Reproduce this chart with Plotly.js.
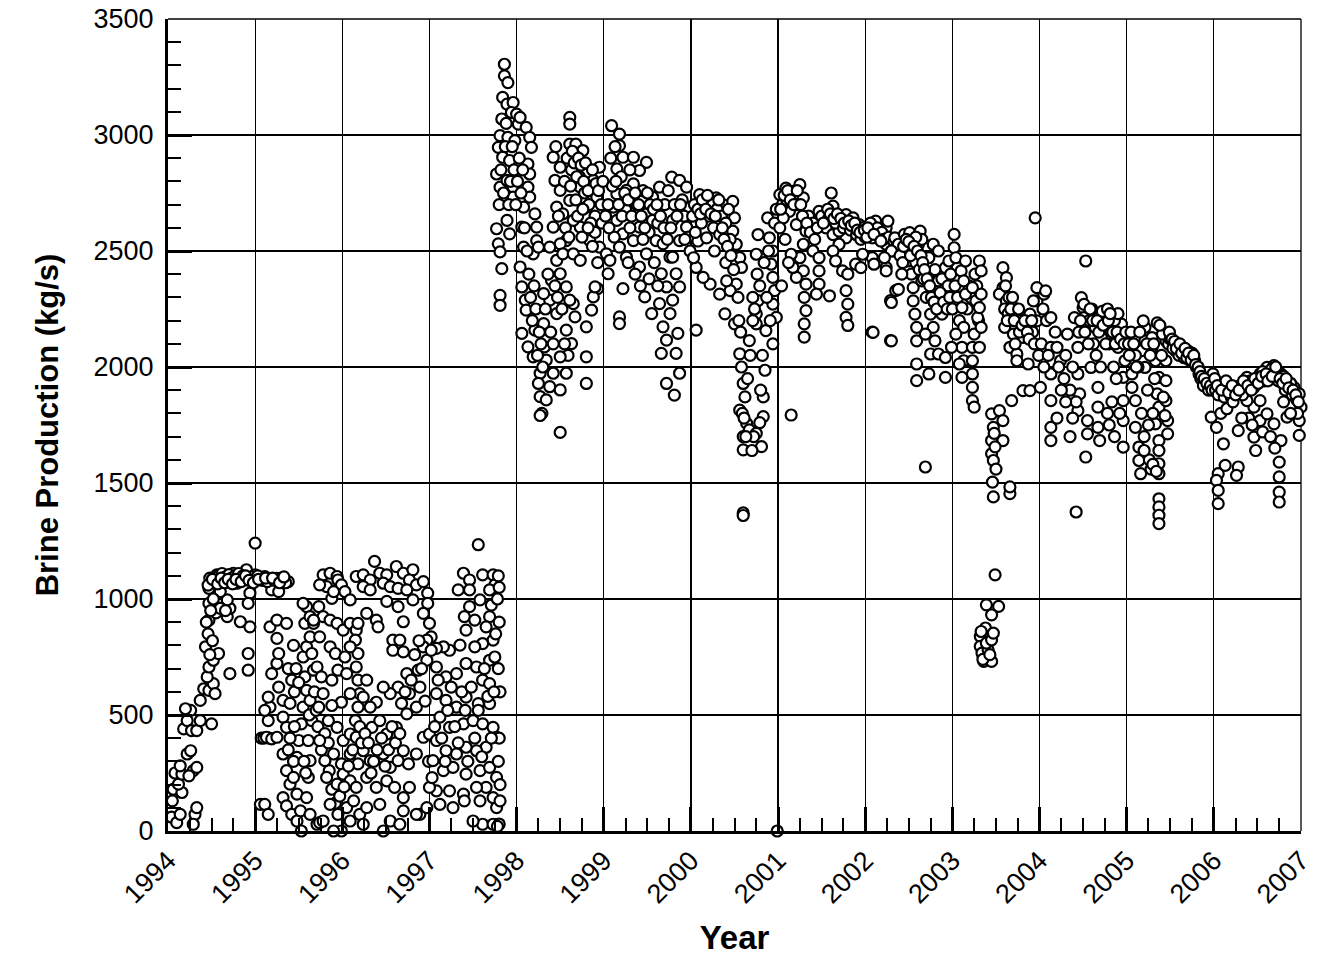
<!DOCTYPE html>
<html>
<head>
<meta charset="utf-8">
<script src="https://cdn.plot.ly/plotly-3.0.1.min.js"></script>
<style>html,body{margin:0;padding:0;background:#fff;}#chart{width:1328px;height:959px;}</style>
</head>
<body>
<div id="chart"></div>
<script>
// Tick labels
const yearTicks = [1994,1995,1996,1997,1998,1999,2000,2001,2002,2003,2004,2005,2006,2007];
const brineTicks = [0,500,1000,1500,2000,2500,3000,3500];

// [decimal year, brine production kg/s]
const pts1994 = [[1994.04,60],[1994.05,130],[1994.06,180],[1994.08,250],[1994.10,36],[1994.14,72],[1994.16,166],[1994.12,202],[1994.16,245],[1994.14,281],[1994.22,332],[1994.26,346],[1994.29,260],[1994.33,274],[1994.24,238],[1994.31,72],[1994.29,29],[1994.33,101],[1994.18,440],[1994.22,476],[1994.26,520],[1994.20,527],[1994.27,433],[1994.33,433],[1994.37,476],[1994.37,563],[1994.41,613],[1994.47,606],[1994.52,635],[1994.45,664],[1994.47,707],[1994.52,736],[1994.58,765],[1994.43,794],[1994.50,462],[1994.54,592],[1994.71,678],[1994.92,765],[1994.92,693],[1994.94,880],[1994.83,902],[1994.68,924],[1994.47,909],[1994.47,981],[1994.56,952],[1994.71,960],[1994.68,996],[1994.50,1068],[1994.56,1104],[1994.64,1082],[1994.75,1111],[1994.83,1097],[1994.90,1126],[1995.00,1104],[1995.06,1082],[1995.11,1097],[1995.17,1068],[1995.25,1089],[1995.32,1082],[1995.38,1075],[1995.00,1241],[1994.94,1025],[1994.92,981],[1994.47,1046],[1994.60,1032],[1994.79,1068],[1995.19,1039],[1995.27,1032],[1994.48,1090],[1994.53,1075],[1994.58,1100],[1994.62,1110],[1994.66,1095],[1994.70,1105],[1994.73,1090],[1994.77,1100],[1994.81,1110],[1994.86,1100],[1994.88,1085],[1994.96,1095],[1995.03,1100],[1995.09,1080],[1995.14,1075],[1995.22,1080],[1995.30,1090],[1995.35,1070],[1994.52,1000],[1994.55,940],[1994.60,960],[1994.66,950],[1994.46,1060],[1994.51,1085],[1994.57,1065],[1994.61,1090],[1994.65,1070],[1994.69,1085],[1994.74,1065],[1994.78,1085],[1994.84,1075],[1994.89,1100],[1994.93,1080],[1994.98,1070],[1995.04,1085],[1995.12,1090],[1995.20,1090],[1995.28,1070],[1995.33,1095],[1994.44,900],[1994.46,850],[1994.49,950],[1994.51,820],[1994.48,760]];

const pts1995 = [[1995.06,115],[1995.11,115],[1995.15,72],[1995.07,400],[1995.10,400],[1995.16,400],[1995.13,404],[1995.19,397],[1995.25,404],[1995.15,476],[1995.17,534],[1995.15,577],[1995.11,520],[1995.19,678],[1995.25,722],[1995.27,765],[1995.25,830],[1995.17,880],[1995.25,909],[1995.36,895],[1995.27,620],[1995.32,563],[1995.32,491],[1995.36,447],[1995.32,332],[1995.36,260],[1995.40,202],[1995.32,144],[1995.36,108],[1995.42,72],[1995.48,43],[1995.53,0],[1995.52,87],[1995.48,159],[1995.44,231],[1995.48,317],[1995.50,390],[1995.53,462],[1995.55,534],[1995.59,606],[1995.57,664],[1995.55,750],[1995.59,794],[1995.63,837],[1995.57,895],[1995.59,967],[1995.55,981],[1995.63,924],[1995.67,895],[1995.65,765],[1995.67,693],[1995.63,563],[1995.65,476],[1995.61,390],[1995.63,303],[1995.61,231],[1995.59,144],[1995.63,72],[1995.71,29],[1995.74,36],[1995.40,550],[1995.45,600],[1995.42,650],[1995.38,700],[1995.44,800],[1995.47,700],[1995.50,640],[1995.40,400],[1995.45,450],[1995.38,350],[1995.44,300],[1995.56,300],[1995.58,250],[1995.62,500],[1995.68,600],[1995.70,520],[1995.72,450],[1995.76,350],[1995.80,420],[1995.84,380],[1995.85,260],[1995.88,180],[1995.92,120],[1995.97,150]];

const pts1996a = [[1995.78,1104],[1995.86,1111],[1995.94,1097],[1995.82,1053],[1995.74,1061],[1995.88,1003],[1995.95,1082],[1995.99,1061],[1996.03,1032],[1996.09,996],[1995.90,1032],[1995.73,967],[1995.78,924],[1995.67,909],[1995.86,909],[1995.94,895],[1996.01,866],[1996.09,895],[1996.16,866],[1996.15,823],[1996.18,765],[1996.16,707],[1996.18,650],[1996.20,592],[1996.18,534],[1995.74,837],[1995.86,794],[1995.92,765],[1995.71,707],[1995.76,664],[1995.88,650],[1995.95,693],[1996.03,750],[1996.09,794],[1996.05,678],[1996.09,592],[1995.99,555],[1995.88,541],[1995.78,592],[1995.73,534],[1995.84,476],[1995.94,447],[1996.01,390],[1996.09,418],[1996.15,476],[1996.16,404],[1996.09,332],[1995.99,289],[1995.90,332],[1995.80,303],[1995.74,390],[1995.82,231],[1995.94,202],[1996.01,245],[1996.09,216],[1996.18,289],[1996.16,188],[1995.86,115],[1995.95,72],[1996.05,101],[1996.09,43],[1995.99,0],[1995.90,0],[1995.78,43],[1996.13,130],[1996.20,72],[1996.02,190],[1996.07,280],[1996.12,350],[1996.20,450]];

const pts1996b = [[1996.16,1097],[1996.24,1104],[1996.32,1082],[1996.37,1162],[1996.43,1111],[1996.51,1104],[1996.62,1140],[1996.70,1111],[1996.81,1126],[1996.77,1082],[1996.85,1061],[1996.93,1075],[1996.98,1025],[1996.98,981],[1996.24,1053],[1996.32,1039],[1996.47,1068],[1996.55,1053],[1996.64,1046],[1996.74,1039],[1996.51,990],[1996.64,967],[1996.81,996],[1996.93,938],[1997.00,895],[1997.02,837],[1996.97,823],[1996.28,938],[1996.39,909],[1996.41,880],[1996.18,895],[1996.70,902],[1996.58,823],[1996.66,823],[1996.58,779],[1996.70,772],[1996.74,678],[1996.64,620],[1996.55,592],[1996.47,620],[1996.39,555],[1996.32,534],[1996.24,577],[1996.28,650],[1996.34,447],[1996.43,476],[1996.51,418],[1996.62,447],[1996.74,505],[1996.85,534],[1996.77,592],[1996.89,620],[1996.97,736],[1996.87,693],[1996.93,794],[1996.24,346],[1996.32,303],[1996.47,332],[1996.55,274],[1996.64,303],[1996.70,346],[1996.76,289],[1996.85,332],[1996.93,404],[1997.00,418],[1996.28,231],[1996.39,188],[1996.51,216],[1996.60,188],[1996.70,144],[1996.77,188],[1996.89,72],[1996.97,101],[1996.43,115],[1996.28,101],[1996.55,43],[1996.66,29],[1996.47,0],[1996.24,29],[1996.70,87],[1996.85,72],[1996.22,380],[1996.26,420],[1996.30,380],[1996.33,250],[1996.36,300],[1996.40,350],[1996.45,400],[1996.49,280],[1996.53,350],[1996.57,450],[1996.61,380],[1996.66,420],[1996.68,550],[1996.72,600],[1996.79,650],[1996.83,760],[1996.88,820],[1996.91,700],[1996.95,560],[1996.99,300]];

const pts1997 = [[1997.56,1234],[1997.39,1111],[1997.46,1082],[1997.33,1039],[1997.61,1104],[1997.73,1104],[1997.75,1061],[1997.69,1039],[1997.46,1039],[1997.58,996],[1997.71,974],[1997.46,967],[1997.40,924],[1997.52,909],[1997.69,924],[1997.65,880],[1997.42,866],[1997.73,823],[1997.61,808],[1997.52,794],[1997.35,801],[1997.23,779],[1997.16,794],[1997.08,787],[1997.02,779],[1997.69,736],[1997.54,707],[1997.42,722],[1997.31,678],[1997.19,664],[1997.08,707],[1997.61,650],[1997.69,635],[1997.69,549],[1997.56,549],[1997.42,577],[1997.31,534],[1997.19,563],[1997.08,592],[1997.12,491],[1997.23,447],[1997.39,462],[1997.50,476],[1997.61,462],[1997.73,447],[1997.77,404],[1997.65,361],[1997.54,346],[1997.42,361],[1997.31,332],[1997.19,346],[1997.08,390],[1997.04,303],[1997.16,260],[1997.27,274],[1997.42,245],[1997.58,260],[1997.69,274],[1997.77,231],[1997.65,188],[1997.54,188],[1997.39,159],[1997.23,173],[1997.08,173],[1997.00,188],[1997.12,115],[1997.27,101],[1997.40,130],[1997.58,130],[1997.73,144],[1997.77,101],[1997.61,29],[1997.73,29],[1997.50,43],[1997.79,1100],[1997.80,1050],[1997.78,1000],[1997.80,900],[1997.79,700],[1997.81,600],[1997.80,400],[1997.79,300],[1997.81,130],[1997.80,30],[1997.78,20],[1997.81,200],[1997.03,230],[1997.06,450],[1997.10,650],[1997.14,400],[1997.18,300],[1997.21,520],[1997.25,620],[1997.29,450],[1997.33,380],[1997.37,600],[1997.41,520],[1997.44,300],[1997.48,620],[1997.52,400],[1997.56,520],[1997.60,320],[1997.63,700],[1997.67,580],[1997.71,400],[1997.75,750],[1997.76,850],[1997.74,600]];

const pts1998a = [[1997.86,3305],[1997.86,3255],[1997.90,3226],[1997.84,3162],[1997.89,3133],[1997.83,3069],[1997.96,3140],[1997.94,3097],[1998.00,3090],[1997.81,2997],[1997.79,2947],[1997.84,2904],[1997.77,2832],[1997.81,2775],[1997.89,2804],[1997.96,2775],[1997.92,2890],[1997.77,2596],[1997.79,2531],[1997.81,2496],[1997.83,2424],[1997.81,2309],[1997.81,2266],[1997.89,2632],[1997.92,2574],[1997.96,2732],[1997.90,2990],[1998.02,3047],[1997.98,2976],[1998.04,3076],[1998.11,3033],[1998.15,2990],[1998.17,2947],[1998.13,2875],[1998.15,2832],[1998.13,2775],[1998.15,2732],[1998.21,2660],[1998.23,2603],[1998.23,2545],[1998.19,2488],[1998.25,2517],[1998.08,2689],[1998.06,2603],[1998.08,2517],[1998.04,2431],[1998.06,2345],[1998.10,2288],[1998.11,2245],[1998.06,2145],[1998.13,2087],[1998.19,2044],[1998.27,1973],[1998.25,1929],[1998.27,1872],[1998.29,1800],[1998.21,2159],[1998.31,2187],[1998.32,2087],[1998.34,2030],[1998.38,1915],[1998.34,1858],[1998.50,1901],[1998.57,1973],[1998.63,2101],[1998.57,2159],[1998.46,2230],[1998.38,2288],[1998.31,2316],[1998.40,2374],[1998.50,2402],[1998.57,2345],[1998.65,2273],[1998.67,2216],[1998.61,2288],[1998.50,1718],[1998.27,1791],[1997.80,2700],[1997.82,2850],[1997.85,2750],[1997.87,2950],[1997.88,3050],[1997.91,2700],[1997.93,2800],[1997.95,2950],[1997.97,2850],[1997.99,2700],[1998.01,2800],[1998.03,2900],[1998.05,2750],[1998.07,2850],[1998.09,2600],[1998.12,2500],[1998.14,2400],[1998.16,2300],[1998.18,2200],[1998.20,2350],[1998.22,2250],[1998.24,2050],[1998.26,2150],[1998.28,2100],[1998.30,2000],[1998.33,2250],[1998.36,2400],[1998.39,2150],[1998.42,2100],[1998.44,2350],[1998.47,2300],[1998.52,2250],[1998.55,2100],[1998.59,2050]];

const pts1998b = [[1998.42,2904],[1998.50,2861],[1998.61,2961],[1998.68,2961],[1998.76,2933],[1998.67,2911],[1998.61,3076],[1998.61,3047],[1998.44,2804],[1998.50,2761],[1998.46,2689],[1998.53,2660],[1998.61,2718],[1998.73,2775],[1998.80,2832],[1998.88,2804],[1998.95,2861],[1998.92,2732],[1998.80,2689],[1998.73,2603],[1998.65,2632],[1998.57,2545],[1998.50,2531],[1998.42,2603],[1998.38,2517],[1998.46,2460],[1998.53,2488],[1998.65,2488],[1998.73,2460],[1998.84,2545],[1998.95,2517],[1999.03,2488],[1999.07,2460],[1999.05,2402],[1998.93,2338],[1998.88,2302],[1998.86,2245],[1998.80,2173],[1998.80,2044],[1998.80,1929],[1998.90,2345],[1998.42,1973],[1998.50,2044],[1999.22,2338],[1999.18,2216],[1999.18,2187],[1998.55,2800],[1998.58,2900],[1998.63,2850],[1998.70,2880],[1998.72,2820],[1998.78,2750],[1998.83,2700],[1998.86,2780],[1998.90,2650],[1998.97,2700],[1998.98,2620],[1998.45,2950],[1998.48,2650],[1998.56,2600],[1998.60,2560],[1998.70,2650],[1998.75,2560],[1998.85,2620],[1998.90,2580],[1998.64,2930],[1998.66,2880],[1998.69,2820],[1998.71,2900],[1998.74,2870],[1998.77,2800],[1998.79,2880],[1998.82,2760],[1998.87,2850],[1998.91,2790],[1998.94,2760],[1998.99,2800],[1998.62,2780],[1998.68,2720],[1998.76,2680],[1998.82,2600],[1998.87,2520],[1998.93,2450]];

const pts1999 = [[1999.09,3040],[1999.18,3004],[1999.18,2954],[1999.22,2904],[1999.15,2854],[1999.34,2904],[1999.49,2882],[1999.41,2847],[1999.34,2789],[1999.26,2761],[1999.15,2746],[1999.11,2689],[1999.15,2632],[1999.22,2574],[1999.18,2517],[1999.26,2474],[1999.34,2545],[1999.41,2603],[1999.49,2660],[1999.56,2732],[1999.64,2775],[1999.56,2632],[1999.60,2545],[1999.49,2488],[1999.41,2431],[1999.47,2302],[1999.55,2230],[1999.64,2273],[1999.72,2345],[1999.66,2402],[1999.76,2474],[1999.68,2531],[1999.79,2632],[1999.78,2818],[1999.87,2804],[1999.95,2775],[1999.98,2689],[1999.95,2603],[1999.87,2545],[1999.79,2474],[1999.83,2402],[1999.87,2345],[1999.79,2288],[1999.76,2230],[1999.68,2173],[1999.66,2059],[1999.72,2116],[1999.85,2145],[1999.83,2059],[1999.87,1973],[1999.72,1929],[1999.81,1879],[2000.06,2159],[1999.05,2700],[1999.10,2780],[1999.20,2820],[1999.25,2680],[1999.30,2600],[1999.38,2700],[1999.45,2760],[1999.52,2580],[1999.58,2450],[1999.62,2620],[1999.70,2700],[1999.74,2760],[1999.90,2720],[1999.92,2650],[1999.97,2560],[1999.30,2850],[1999.12,2560],[1999.45,2550],[1999.08,2900],[1999.13,2950],[1999.02,2650],[1999.06,2600],[1999.14,2800],[1999.17,2700],[1999.21,2650],[1999.24,2750],[1999.28,2720],[1999.32,2650],[1999.36,2750],[1999.40,2700],[1999.43,2650],[1999.47,2600],[1999.50,2750],[1999.53,2700],[1999.57,2680],[1999.61,2700],[1999.65,2650],[1999.69,2600],[1999.73,2550],[1999.77,2600],[1999.81,2700],[1999.84,2650],[1999.88,2700],[1999.93,2550],[1999.99,2500],[1999.28,2450],[1999.36,2400],[1999.42,2350],[1999.52,2380],[1999.62,2350]];

const pts2000 = [[2000.10,2743],[2000.22,2714],[2000.29,2729],[2000.37,2700],[2000.48,2714],[2000.50,2643],[2000.48,2586],[2000.52,2529],[2000.56,2471],[2000.58,2429],[2000.52,2357],[2000.45,2329],[2000.41,2371],[2000.33,2314],[2000.22,2357],[2000.14,2386],[2000.06,2429],[2000.03,2471],[2000.08,2543],[2000.18,2557],[2000.26,2600],[2000.33,2571],[2000.39,2229],[2000.50,2186],[2000.56,2057],[2000.58,2000],[2000.60,1929],[2000.62,1871],[2000.56,1814],[2000.64,1757],[2000.60,1700],[2000.67,1729],[2000.60,1643],[2000.75,1714],[2000.81,1657],[2000.83,1786],[2000.83,1871],[2000.85,1986],[2000.67,2114],[2000.75,2186],[2000.86,2157],[2000.94,2100],[2000.98,2214],[2000.94,2271],[2000.96,2329],[2000.94,2386],[2000.92,2443],[2000.94,2500],[2000.90,2557],[2000.88,2643],[2000.75,2229],[2000.77,2286],[2000.71,2300],[2000.75,2486],[2000.77,2571],[2000.60,1371],[2000.60,1360],[2000.99,0],[2000.15,2700],[2000.20,2650],[2000.25,2700],[2000.30,2680],[2000.35,2650],[2000.40,2620],[2000.43,2680],[2000.12,2620],[2000.05,2580],[2000.27,2500],[2000.40,2450],[2000.45,2550],[2000.70,1640],[2000.72,1700],[2000.79,1760],[2000.80,1900],[2000.82,2050],[2000.87,2300],[2000.91,2200],[2000.96,2620],[2000.98,2680],[2000.02,2650],[2000.04,2700],[2000.08,2680],[2000.11,2660],[2000.13,2720],[2000.17,2680],[2000.19,2740],[2000.23,2660],[2000.28,2650],[2000.32,2720],[2000.36,2600],[2000.38,2550],[2000.42,2520],[2000.46,2480],[2000.49,2420],[2000.54,2300],[2000.55,2200],[2000.57,2150],[2000.59,1800],[2000.61,1780],[2000.63,1700],[2000.65,1950],[2000.68,2050],[2000.71,2200],[2000.73,2250],[2000.76,2400],[2000.79,2350],[2000.84,2450],[2000.89,2500]];

const pts2001 = [[2001.02,2743],[2001.09,2771],[2001.17,2757],[2001.25,2786],[2001.29,2729],[2001.21,2700],[2001.13,2671],[2001.06,2643],[2001.02,2600],[2001.21,2614],[2001.32,2586],[2001.29,2529],[2001.25,2471],[2001.29,2414],[2001.32,2357],[2001.30,2300],[2001.32,2243],[2001.30,2186],[2001.30,2129],[2001.21,2386],[2001.17,2429],[2001.15,2486],[2001.40,2500],[2001.47,2471],[2001.47,2414],[2001.47,2357],[2001.44,2314],[2001.59,2307],[2001.15,1793],[2001.61,2750],[2001.63,2693],[2001.47,2671],[2001.55,2643],[2001.70,2629],[2001.78,2657],[2001.86,2643],[2001.93,2614],[2001.86,2586],[2001.78,2557],[2001.70,2529],[2001.63,2500],[2001.74,2414],[2001.80,2400],[2001.78,2329],[2001.80,2271],[2001.78,2214],[2001.80,2179],[2001.66,2457],[2001.55,2600],[2001.63,2571],[2001.70,2586],[2001.97,2600],[2002.05,2586],[2002.08,2557],[2002.16,2571],[2002.24,2600],[2002.26,2629],[2002.12,2629],[2002.24,2529],[2002.31,2500],[2002.24,2429],[2002.08,2471],[2001.97,2486],[2001.89,2443],[2002.29,2286],[2002.35,2329],[2002.08,2150],[2002.29,2114],[2001.05,2700],[2001.10,2720],[2001.35,2650],[2001.40,2620],[2001.50,2650],[2001.58,2640],[2001.66,2620],[2001.75,2600],[2001.83,2590],[2001.90,2570],[2001.95,2550],[2002.00,2560],[2001.08,2550],[2001.12,2450],[2001.04,2350],[2001.03,2680],[2001.07,2740],[2001.11,2760],[2001.14,2720],[2001.18,2700],[2001.22,2760],[2001.26,2700],[2001.28,2650],[2001.33,2620],[2001.37,2580],[2001.42,2550],[2001.45,2600],[2001.52,2620],[2001.57,2680],[2001.60,2660],[2001.64,2640],[2001.68,2660],[2001.72,2640],[2001.76,2620],[2001.81,2630],[2001.84,2610],[2001.88,2620],[2001.91,2590],[2001.94,2580],[2001.99,2590],[2002.02,2560],[2002.06,2620],[2002.14,2600],[2002.19,2580],[2002.21,2550],[2002.27,2560],[2002.33,2540],[2002.36,2520],[2002.40,2540]];

const pts2002 = [[2002.03,2600],[2002.10,2572],[2002.18,2543],[2002.34,2557],[2002.45,2572],[2002.51,2579],[2002.63,2586],[2002.61,2529],[2002.49,2514],[2002.38,2529],[2002.30,2500],[2002.22,2471],[2002.10,2443],[2001.95,2428],[2002.24,2414],[2002.38,2335],[2002.30,2278],[2002.09,2149],[2002.30,2113],[2002.49,2457],[2002.53,2400],[2002.55,2342],[2002.55,2285],[2002.57,2228],[2002.59,2171],[2002.59,2113],[2002.59,2013],[2002.59,1941],[2002.73,1970],[2002.69,1569],[2002.73,2471],[2002.78,2529],[2002.84,2500],[2002.73,2400],[2002.77,2342],[2002.84,2371],[2002.92,2428],[2002.96,2457],[2003.02,2572],[2003.02,2514],[2003.04,2471],[2002.92,2314],[2002.84,2285],[2002.88,2228],[2002.75,2228],[2002.78,2171],[2002.80,2113],[2002.75,2056],[2002.84,2056],[2002.92,2041],[2002.92,1955],[2002.69,2142],[2002.65,2371],[2002.40,2480],[2002.43,2450],[2002.55,2500],[2002.58,2450],[2002.62,2420],[2002.67,2380],[2002.70,2300],[2002.80,2420],[2002.88,2380],[2002.95,2350],[2002.98,2400],[2002.65,2550],[2002.42,2400],[2002.58,2560],[2002.44,2520],[2002.47,2550],[2002.50,2540],[2002.52,2480],[2002.56,2520],[2002.60,2500],[2002.64,2480],[2002.66,2450],[2002.68,2420],[2002.71,2380],[2002.74,2350],[2002.76,2300],[2002.79,2280],[2002.82,2250],[2002.86,2320],[2002.90,2280],[2002.94,2250],[2002.97,2300],[2003.00,2250],[2003.03,2350],[2003.06,2300],[2003.08,2200],[2003.17,2250],[2003.19,2350],[2003.21,2300],[2003.26,2400],[2003.28,2350],[2003.30,2200]];

const pts2003 = [[2003.10,2414],[2003.15,2457],[2003.13,2371],[2003.15,2314],[2003.11,2256],[2003.13,2171],[2003.11,2085],[2003.13,2027],[2003.11,1955],[2003.08,2013],[2002.99,2085],[2003.04,2142],[2003.23,2342],[2003.27,2285],[2003.29,2213],[2003.25,2142],[2003.23,2085],[2003.23,2027],[2003.23,1970],[2003.23,1912],[2003.23,1855],[2003.25,1827],[2003.31,2457],[2003.33,2414],[2003.33,2314],[2003.31,2256],[2003.33,2171],[2003.31,2085],[2003.49,1104],[2003.39,975],[2003.53,968],[2003.45,932],[2003.38,875],[2003.32,839],[2003.32,796],[2003.34,767],[2003.36,731],[2003.41,781],[2003.45,731],[2003.39,810],[2003.45,824],[2003.47,853],[2003.33,860],[2003.35,740],[2003.43,760],[2003.45,1798],[2003.47,1740],[2003.45,1683],[2003.45,1626],[2003.47,1597],[2003.46,1504],[2003.47,1440],[2003.66,1454],[2003.66,1483],[2003.54,1812],[2003.58,1769],[2003.58,1683],[2003.68,1855],[2003.81,1898],[2003.89,1898],[2004.01,1912],[2003.49,1656],[2003.48,1714],[2003.50,1560],[2003.58,2428],[2003.62,2385],[2003.58,2342],[2003.54,2314],[2003.62,2285],[2003.70,2256],[2003.74,2228],[2003.66,2199],[2003.60,2171],[2003.70,2142],[2003.66,2085],[2003.74,2056],[2003.74,2027],[2003.87,2013],[2003.81,2128],[2003.89,2171],[2003.97,2199],[2003.89,2228],[2003.97,2285],[2004.05,2314],[2003.97,2342],[2003.93,2285],[2004.07,2328],[2003.95,2643],[2003.60,2250],[2003.65,2300],[2003.78,2200],[2003.85,2180],[2003.92,2150],[2003.64,2230],[2003.61,2350],[2003.63,2200],[2003.67,2250],[2003.69,2300],[2003.71,2200],[2003.72,2100],[2003.76,2250],[2003.77,2150],[2003.80,2180],[2003.83,2200],[2003.86,2150],[2003.88,2120],[2003.91,2200],[2003.94,2100],[2003.99,2050],[2004.02,2100],[2004.04,2250],[2004.08,2200]];

const pts2004 = [[2004.13,2213],[2004.13,2085],[2004.13,1970],[2004.13,1855],[2004.13,1740],[2004.13,1683],[2004.20,2085],[2004.24,2027],[2004.32,2142],[2004.40,2213],[2004.42,1375],[2004.48,2299],[2004.50,2256],[2004.51,2213],[2004.53,2457],[2004.51,2270],[2004.44,2085],[2004.44,1970],[2004.46,1884],[2004.44,1812],[2004.55,1769],[2004.55,1712],[2004.53,1612],[2004.59,1998],[2004.67,1912],[2004.67,1827],[2004.67,1740],[2004.69,1683],[2004.71,2128],[2004.75,2242],[2004.77,2199],[2004.75,2171],[2004.82,2156],[2004.94,2185],[2004.90,2085],[2004.98,2027],[2004.96,1955],[2004.96,1855],[2004.96,1769],[2004.96,1655],[2004.05,2000],[2004.10,2050],[2004.18,2150],[2004.22,2000],[2004.28,1950],[2004.30,2050],[2004.35,1900],[2004.38,2000],[2004.42,1850],[2004.45,2150],[2004.57,2200],[2004.62,2100],[2004.65,2050],[2004.70,2000],[2004.80,2100],[2004.85,2000],[2004.88,1950],[2004.83,1850],[2004.78,1800],[2004.80,1750],[2004.86,1700],[2004.92,1800],[2004.35,1700],[2004.38,1780],[2004.30,1850],[2004.25,1900],[2004.20,1780],[2004.60,2250],[2004.64,2170],[2004.72,2240],[2004.78,2250],[2004.86,2200],[2004.90,2230],[2004.47,2200],[2004.52,2150],[2004.56,2100],[2004.58,2250],[2004.61,2200],[2004.66,2200],[2004.68,2150],[2004.73,2180],[2004.76,2100],[2004.79,2200],[2004.81,2230],[2004.84,2150],[2004.87,2100],[2004.89,2150],[2004.93,2120],[2004.97,2100],[2004.99,2150]];

const pts2005 = [[2005.06,1970],[2005.06,1912],[2005.10,1855],[2005.10,1740],[2005.14,1655],[2005.14,1597],[2005.16,1540],[2005.21,2171],[2005.21,2113],[2005.17,2070],[2005.21,1998],[2005.29,2085],[2005.33,2027],[2005.37,1955],[2005.35,1884],[2005.37,1827],[2005.33,1755],[2005.37,1683],[2005.37,1640],[2005.37,1583],[2005.37,1540],[2005.37,1432],[2005.37,1397],[2005.37,1361],[2005.37,1325],[2005.45,2113],[2005.45,1941],[2005.45,1855],[2005.47,1769],[2005.47,1712],[2005.45,2027],[2005.19,2199],[2005.29,2127],[2005.41,2142],[2005.48,2099],[2005.56,2070],[2005.64,2085],[2005.68,2056],[2005.78,2027],[2005.83,1970],[2005.91,1941],[2005.99,1970],[2005.02,2100],[2005.05,2150],[2005.10,2050],[2005.13,2000],[2005.17,1800],[2005.20,1700],[2005.24,1900],[2005.26,1600],[2005.28,1560],[2005.30,1800],[2005.32,1950],[2005.35,2190],[2005.38,2180],[2005.40,2050],[2005.42,1870],[2005.44,1790],[2005.50,2120],[2005.53,2080],[2005.58,2100],[2005.60,2050],[2005.62,2090],[2005.66,2040],[2005.70,2070],[2005.72,2030],[2005.75,2060],[2005.80,2000],[2005.85,1950],[2005.88,1920],[2005.94,1900],[2005.20,1640],[2005.25,1750],[2005.30,1580],[2005.34,1550],[2005.03,2050],[2005.08,2100],[2005.11,2000],[2005.15,2150],[2005.23,2100],[2005.27,2050],[2005.31,2100],[2005.49,2150],[2005.52,2120],[2005.55,2110],[2005.57,2080],[2005.61,2100],[2005.63,2060],[2005.67,2080],[2005.69,2040],[2005.71,2060],[2005.74,2030],[2005.77,2050],[2005.79,2010],[2005.82,2000],[2005.84,1980],[2005.86,1960],[2005.89,1950],[2005.92,1930],[2005.96,1920],[2005.98,1900]];

const pts2006 = [[2006.07,1912],[2006.15,1898],[2006.26,1912],[2006.38,1955],[2006.46,1912],[2006.53,1970],[2006.61,1998],[2006.69,2006],[2006.77,1970],[2006.84,1941],[2006.92,1912],[2006.98,1884],[2007.00,1827],[2006.98,1769],[2006.98,1705],[2005.97,1784],[2006.03,1740],[2006.11,1669],[2006.05,1540],[2006.03,1511],[2006.05,1468],[2006.05,1411],[2006.13,1576],[2006.28,1569],[2006.26,1533],[2006.28,1726],[2006.46,1698],[2006.48,1640],[2006.53,1769],[2006.61,1798],[2006.69,1755],[2006.77,1683],[2006.75,1590],[2006.75,1526],[2006.75,1461],[2006.75,1418],[2006.84,1784],[2006.46,1827],[2006.38,1855],[2006.53,1855],[2006.02,1900],[2006.05,1880],[2006.10,1930],[2006.12,1870],[2006.18,1920],[2006.20,1870],[2006.23,1900],[2006.30,1920],[2006.33,1880],[2006.36,1920],[2006.42,1940],[2006.50,1950],[2006.56,1980],[2006.58,1940],[2006.64,1960],[2006.66,1990],[2006.72,1980],[2006.74,1940],[2006.80,1960],[2006.82,1900],[2006.88,1930],[2006.90,1880],[2006.95,1860],[2006.96,1800],[2006.40,1780],[2006.44,1750],[2006.56,1720],[2006.65,1700],[2006.70,1650],[2006.80,1850],[2006.88,1800],[2006.08,1800],[2006.15,1820],[2006.22,1850],[2006.32,1780],[2006.01,1950],[2006.04,1920],[2006.09,1900],[2006.14,1940],[2006.17,1890],[2006.21,1920],[2006.25,1880],[2006.29,1900],[2006.34,1940],[2006.39,1920],[2006.43,1900],[2006.47,1950],[2006.51,1930],[2006.55,1960],[2006.60,1970],[2006.62,1940],[2006.67,1960],[2006.71,2000],[2006.76,1950],[2006.79,1930],[2006.83,1950],[2006.86,1910],[2006.91,1900],[2006.94,1880],[2006.97,1850]];

const allPts = [].concat(pts1994, pts1995, pts1996a, pts1996b, pts1997, pts1998a, pts1998b, pts1999, pts2000, pts2001, pts2002, pts2003, pts2004, pts2005, pts2006);

const trace = {
  type: 'scatter',
  mode: 'markers',
  x: allPts.map(p => p[0]),
  y: allPts.map(p => p[1]),
  cliponaxis: false,
  marker: {symbol: 'circle', size: 11, color: '#ffffff', line: {color: '#000000', width: 2.2}},
  hoverinfo: 'x+y'
};

const FONT = 'Liberation Sans, Arial, Helvetica, sans-serif';

const layout = {
  width: 1328, height: 959,
  margin: {l: 168, r: 27, t: 19, b: 128},
  paper_bgcolor: '#ffffff', plot_bgcolor: '#ffffff',
  showlegend: false,
  font: {family: FONT, color: '#000000', size: 27},
  xaxis: {
    range: [1994, 2007],
    tickmode: 'array', tickvals: yearTicks, ticktext: yearTicks.map(String),
    tickangle: -45,
    ticks: 'inside', ticklen: 24, tickwidth: 3, tickcolor: '#000',
    showgrid: true, gridcolor: '#000', gridwidth: 1.3,
    showline: true, linewidth: 3, linecolor: '#000',
    zeroline: false,
    tickfont: {family: FONT, size: 27, color: '#000'},
    minor: {tickmode: 'linear', tick0: 1994, dtick: 0.25, ticks: 'inside', ticklen: 13, tickwidth: 2, tickcolor: '#000', showgrid: false},
    title: {text: '<b>Year</b>', font: {family: FONT, size: 33, color: '#000'}, standoff: 18}
  },
  yaxis: {
    range: [0, 3500],
    tickmode: 'array', tickvals: brineTicks, ticktext: brineTicks.map(String),
    ticks: 'inside', ticklen: 24, tickwidth: 3, tickcolor: '#000',
    showgrid: true, gridcolor: '#000', gridwidth: 1.3,
    showline: true, linewidth: 3, linecolor: '#000',
    zeroline: false,
    tickfont: {family: FONT, size: 27, color: '#000'},
    ticklabelstandoff: 6,
    minor: {tickmode: 'linear', tick0: 0, dtick: 100, ticks: 'inside', ticklen: 13, tickwidth: 2, tickcolor: '#000', showgrid: false},
    title: {text: '<b>Brine Production (kg/s)</b>', font: {family: FONT, size: 31, color: '#000'}, standoff: 26}
  },
  shapes: [
    {type: 'line', xref: 'paper', yref: 'paper', x0: 0, x1: 1, y0: 1, y1: 1, line: {color: '#000', width: 1.3}, layer: 'below'},
    {type: 'line', xref: 'paper', yref: 'paper', x0: 1, x1: 1, y0: 0, y1: 1, line: {color: '#000', width: 1.3}, layer: 'below'}
  ]
};

Plotly.newPlot('chart', [trace], layout, {displayModeBar: false, staticPlot: true});
</script>
</body>
</html>
